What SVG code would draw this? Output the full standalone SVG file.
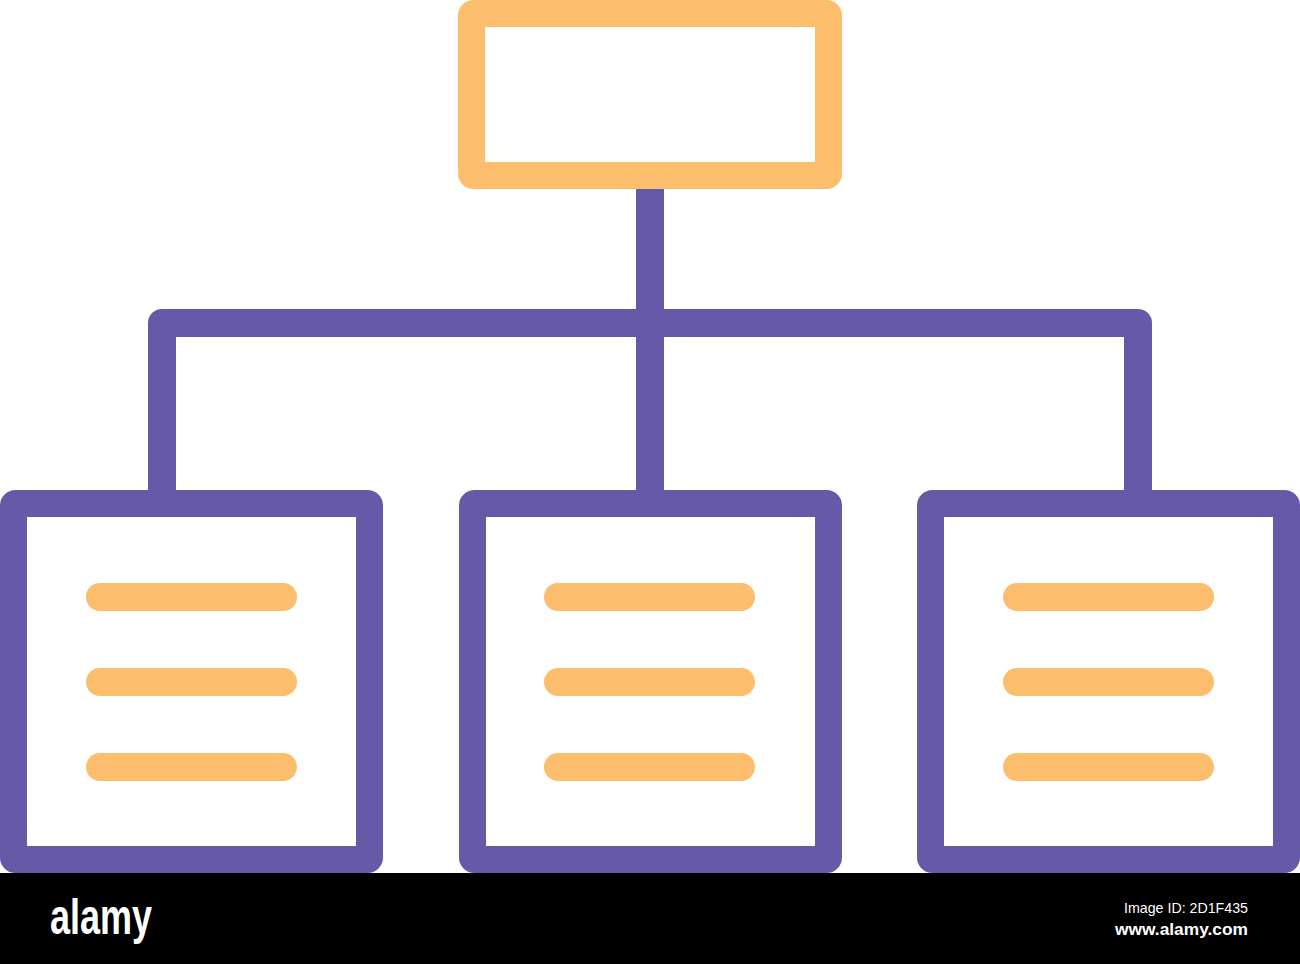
<svg xmlns="http://www.w3.org/2000/svg" width="1300" height="964" viewBox="0 0 1300 964">
  <style>
    .orange { fill: none; stroke: #FCBD6D; stroke-width: 27; }
    .purple { fill: none; stroke: #6659A7; stroke-width: 27; }
    .line { fill: none; stroke: #FCBD6D; stroke-width: 28; stroke-linecap: round; }
    .conn { fill: none; stroke: #6659A7; stroke-width: 28; stroke-linejoin: round; }
    .wm { font-family: "Liberation Sans", Arial, sans-serif; fill: #ffffff; }
  </style>
  <rect x="0" y="0" width="1300" height="964" fill="#ffffff"/>
  <g id="connectors">
    <path class="conn" d="M162,491 V323 H1138 V491"/>
    <path class="conn" d="M650,188 V491" stroke-linejoin="miter"/>
  </g>
  <g id="top-box">
    <rect class="orange" x="471.5" y="13.5" width="357" height="162" rx="2"/>
  </g>
  <g id="box-left">
    <rect class="purple" x="13.5" y="503.5" width="356" height="356" rx="2"/>
    <line class="line" x1="100" y1="597" x2="283" y2="597"/>
    <line class="line" x1="100" y1="682" x2="283" y2="682"/>
    <line class="line" x1="100" y1="767" x2="283" y2="767"/>
  </g>
  <g id="box-middle">
    <rect class="purple" x="472.5" y="503.5" width="356" height="356" rx="2"/>
    <line class="line" x1="558" y1="597" x2="741" y2="597"/>
    <line class="line" x1="558" y1="682" x2="741" y2="682"/>
    <line class="line" x1="558" y1="767" x2="741" y2="767"/>
  </g>
  <g id="box-right">
    <rect class="purple" x="930.5" y="503.5" width="356" height="356" rx="2"/>
    <line class="line" x1="1017" y1="597" x2="1200" y2="597"/>
    <line class="line" x1="1017" y1="682" x2="1200" y2="682"/>
    <line class="line" x1="1017" y1="767" x2="1200" y2="767"/>
  </g>
  <g id="footer">
    <rect x="0" y="873" width="1300" height="91" fill="#000000"/>
    <text class="wm" x="50" y="934" font-size="50" font-weight="bold" textLength="102" lengthAdjust="spacingAndGlyphs">alamy</text>
    <text class="wm" x="1248" y="913" font-size="15" text-anchor="end" textLength="124" lengthAdjust="spacingAndGlyphs">Image ID: 2D1F435</text>
    <text class="wm" x="1248" y="935" font-size="17" font-weight="bold" text-anchor="end" textLength="133" lengthAdjust="spacingAndGlyphs">www.alamy.com</text>
  </g>
</svg>
